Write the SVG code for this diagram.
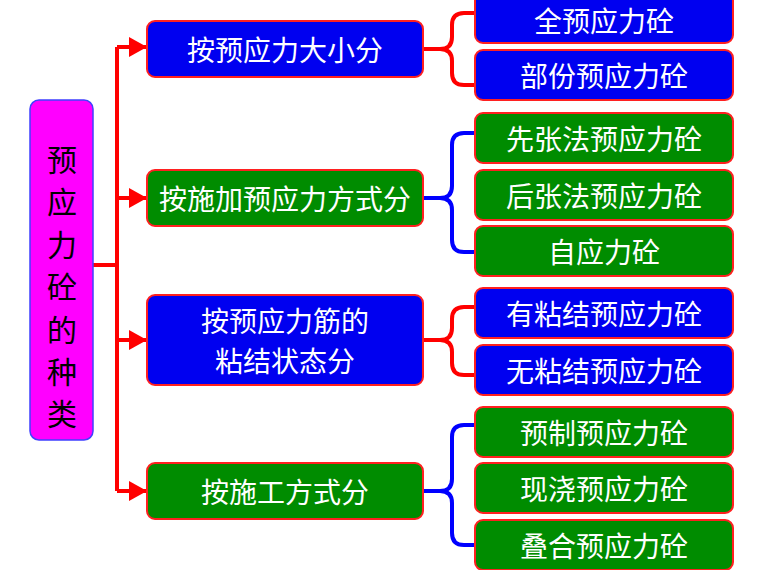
<svg xmlns="http://www.w3.org/2000/svg" width="760" height="570" viewBox="0 0 760 570">
<style>
text{font-family:"Noto Sans CJK SC","Liberation Sans",sans-serif;font-size:28px;fill:#fff;text-anchor:middle;dominant-baseline:central}
.b{fill:#0000f0;stroke:#ff2020;stroke-width:2}
.g{fill:#008c00;stroke:#ff2020;stroke-width:2}
.r{fill:none;stroke:#ff0000;stroke-width:4}
.u{fill:none;stroke:#0000ff;stroke-width:4}
</style>
<defs><marker id="a" markerUnits="userSpaceOnUse" markerWidth="18" markerHeight="20" refX="17" refY="10" orient="auto"><path d="M0,0L18,10L0,20z" fill="#ff0000"/></marker></defs>
<rect width="760" height="570" fill="#fff"/>
<g id="connectors">
<path class="r" d="M93,265H117M117,47V491"/>
<path class="r" d="M117,47H146" marker-end="url(#a)"/>
<path class="r" d="M117,198H146" marker-end="url(#a)"/>
<path class="r" d="M117,340H146" marker-end="url(#a)"/>
<path class="r" d="M117,491H146" marker-end="url(#a)"/>
<path class="r" d="M475,13H464Q452,13 452,25V37Q452,49 440,49H423H440Q452,49 452,61V73Q452,85 464,85H475"/>
<path class="u" d="M475,133H464Q452,133 452,145V186Q452,198 440,198H423H440Q452,198 452,210V240Q452,252 464,252H475"/>
<path class="r" d="M475,307H464Q452,307 452,319V328Q452,340 440,340H423H440Q452,340 452,352V363Q452,375 464,375H475"/>
<path class="u" d="M475,425H464Q452,425 452,437V479Q452,491 440,491H423H440Q452,491 452,503V533Q452,545 464,545H475"/>
</g>
<g id="root"><rect x="30" y="100" width="63" height="340" rx="9" fill="#ff00ff" stroke="#4040ff" stroke-width="1.5"/>
<text style="fill:#000;font-size:30px"><tspan x="62" y="158">预</tspan><tspan x="62" y="200">应</tspan><tspan x="62" y="243">力</tspan><tspan x="62" y="285">砼</tspan><tspan x="62" y="328">的</tspan><tspan x="62" y="370">种</tspan><tspan x="62" y="412">类</tspan></text></g>
<g id="m1"><rect class="b" x="147" y="21" width="276" height="56" rx="8"/><text x="285" y="49">按预应力大小分</text></g>
<g id="m2"><rect class="g" x="147" y="170" width="276" height="56" rx="8"/><text x="285" y="198">按施加预应力方式分</text></g>
<g id="m3"><rect class="b" x="147" y="295" width="276" height="90" rx="8"/><text x="285" y="320">按预应力筋的</text><text x="285" y="360">粘结状态分</text></g>
<g id="m4"><rect class="g" x="147" y="463" width="276" height="56" rx="8"/><text x="285" y="491">按施工方式分</text></g>
<g id="r1"><rect class="b" x="475" y="-8" width="258" height="51" rx="8"/><text x="604" y="20">全预应力砼</text></g>
<g id="r2"><rect class="b" x="475" y="50" width="258" height="50" rx="8"/><text x="604" y="75">部份预应力砼</text></g>
<g id="r3"><rect class="g" x="475" y="113" width="258" height="50" rx="8"/><text x="604" y="138">先张法预应力砼</text></g>
<g id="r4"><rect class="g" x="475" y="170" width="258" height="50" rx="8"/><text x="604" y="195">后张法预应力砼</text></g>
<g id="r5"><rect class="g" x="475" y="226" width="258" height="50" rx="8"/><text x="604" y="251">自应力砼</text></g>
<g id="r6"><rect class="b" x="475" y="288" width="258" height="50" rx="8"/><text x="604" y="313">有粘结预应力砼</text></g>
<g id="r7"><rect class="b" x="475" y="345" width="258" height="50" rx="8"/><text x="604" y="370">无粘结预应力砼</text></g>
<g id="r8"><rect class="g" x="475" y="407" width="258" height="50" rx="8"/><text x="604" y="432">预制预应力砼</text></g>
<g id="r9"><rect class="g" x="475" y="463" width="258" height="50" rx="8"/><text x="604" y="488">现浇预应力砼</text></g>
<g id="r10"><rect class="g" x="475" y="520" width="258" height="50" rx="8"/><text x="604" y="545">叠合预应力砼</text></g>
</svg>
